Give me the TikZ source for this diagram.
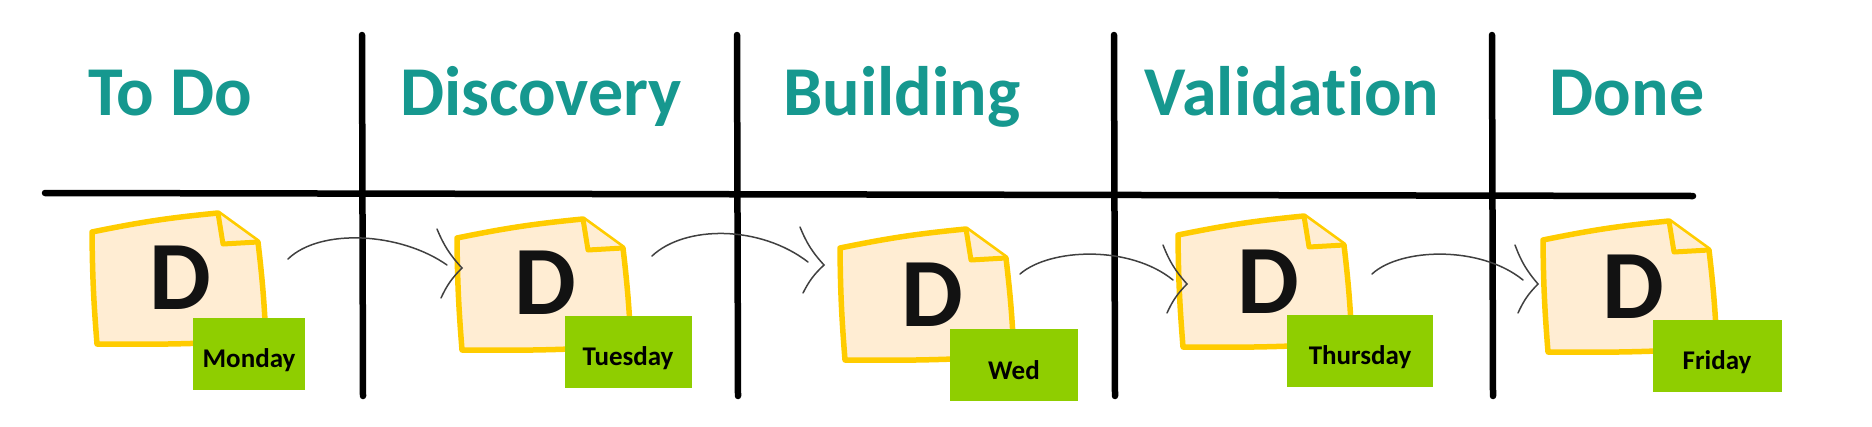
\documentclass[tikz,border=0pt]{standalone}
\usepackage{fontspec}
\setmainfont{Carlito}[Ligatures={NoCommon}]
\definecolor{teal1}{HTML}{16988F}
\definecolor{notefill}{HTML}{FFEDD3}
\definecolor{notegold}{HTML}{FFCC00}
\definecolor{daygreen}{HTML}{8FCE00}
\definecolor{arcgray}{HTML}{404040}
\begin{document}
\begin{tikzpicture}[x=1pt,y=-1pt,
  title/.style={text=teal1, font=\bfseries\fontsize{70}{70}\selectfont, anchor=base},
  gridline/.style={line width=6.5pt, line cap=round, black},
  arcline/.style={line width=1.5pt, arcgray, line cap=round},
  bigd/.style={font=\bfseries\fontsize{98}{98}\selectfont, text=black!93, inner sep=0pt},
  daybox/.style={fill=daygreen, draw=none, minimum height=72pt, inner sep=0pt},
  daytext/.style={font=\bfseries\fontsize{27}{27}\selectfont, text=black, inner sep=0pt},
  note/.pic={
    \path[fill=notefill, draw=notegold, line width=5.5pt, line join=round]
      (0,0) to[bend left=3] (126,-19) -- (166,10) to[bend left=2] (174,108)
      to[bend left=2] (5,112) to[bend left=2] cycle;
    \path[fill=notefill, draw=notegold, line width=5pt, line join=round]
      (126,-19) -- (131,12) -- (166,10);
  }]
\useasboundingbox (0,0) rectangle (1872,426);

% titles
\node[title] (t1) at (170,115) {To Do};
\node[title] (t2) at (541,115) {Discovery};
\node[title] (t3) at (902,115) {Building};
\node[title] (t4) at (1292,115) {Validation};
\node[title] (t5) at (1627,115) {Done};

% grid lines
\coordinate (hl) at (45,193);
\coordinate (hr) at (1693,196);
\draw[gridline] (hl) -- (hr);
\foreach \i/\x in {1/362,2/737,3/1114,4/1492}{
  \coordinate (v\i t) at (\x,35);
  \coordinate (v\i b) at (\x+1,396);
  \draw[gridline] (v\i t) -- (v\i b);
}

% sticky notes
\pic at (92,232) {note};
\pic at (457,238) {note};
\pic at (840,248) {note};
\pic at (1178,235) {note};
\pic at (1543,240) {note};

% day boxes
\node[daybox, minimum width=112pt] (g1) at (249,354) {};
\node[daybox, minimum width=127pt] (g2) at (628,352) {};
\node[daybox, minimum width=128pt] (g3) at (1014,365) {};
\node[daybox, minimum width=146pt] (g4) at (1360,351) {};
\node[daybox, minimum width=129pt] (g5) at (1717,356) {};
\node[daytext] (d1) at ([yshift=-6pt]g1.center) {Monday};
\node[daytext] (d2) at ([yshift=-6pt]g2.center) {Tuesday};
\node[daytext] (d3) at ([yshift=-5pt]g3.center) {Wed};
\node[daytext] (d4) at ([yshift=-6pt]g4.center) {Thursday};
\node[daytext] (d5) at ([yshift=-6pt]g5.center) {Friday};

% D letters
\node[bigd] (n1) at (180,278) {D};
\node[bigd] (n2) at (545,283) {D};
\node[bigd] (n3) at (932,295) {D};
\node[bigd] (n4) at (1268,282) {D};
\node[bigd] (n5) at (1633,287) {D};

% arcs
\coordinate (a1s) at (288,259); \coordinate (a1e) at (447,265);
\coordinate (a2s) at (652,256); \coordinate (a2e) at (808,262);
\coordinate (a3s) at (1020,274); \coordinate (a3e) at (1173,280);
\coordinate (a4s) at (1372,274); \coordinate (a4e) at (1523,280);
\draw[arcline] (a1s) .. controls (320,228) and (400,232) .. (a1e);
\draw[arcline] (a2s) .. controls (685,225) and (760,225) .. (a2e);
\draw[arcline] (a3s) .. controls (1050,248) and (1130,245) .. (a3e);
\draw[arcline] (a4s) .. controls (1400,248) and (1480,245) .. (a4e);

% chevrons
\coordinate (c1u) at (437,229); \coordinate (c1t) at (462,268); \coordinate (c1d) at (441,298);
\coordinate (c2u) at (800,227); \coordinate (c2t) at (824,265); \coordinate (c2d) at (803,293);
\coordinate (c3u) at (1163,245); \coordinate (c3t) at (1187,284); \coordinate (c3d) at (1167,313);
\coordinate (c4u) at (1515,245); \coordinate (c4t) at (1538,284); \coordinate (c4d) at (1518,313);
\foreach \i in {1,2,3,4}{
  \draw[arcline] (c\i u) to[bend right=10] (c\i t) to[bend right=10] (c\i d);
}
\end{tikzpicture}
\end{document}
